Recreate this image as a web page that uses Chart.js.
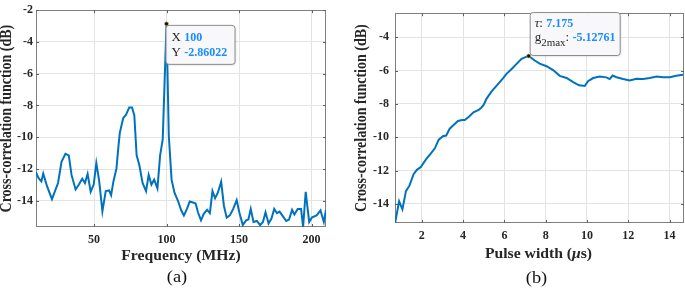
<!DOCTYPE html>
<html><head><meta charset="utf-8">
<script src="https://cdn.jsdelivr.net/npm/chart.js@4.4.1/dist/chart.umd.min.js"></script>
<style>
html,body{margin:0;padding:0;background:#fff}
body{width:685px;height:290px;overflow:hidden;position:relative}
.pane{position:absolute;top:0}
</style></head>
<body>
<div class="pane" style="left:0;width:340px;height:290px"><canvas id="ca" width="340" height="290"></canvas></div>
<div class="pane" style="left:340px;width:345px;height:290px"><canvas id="cb" width="345" height="290"></canvas></div>
<script>
// ---------- data (a) ----------
const freqMHz = [10,11.8,13.7,15,17.6,21,25.2,27.6,30.3,32.6,34.5,37.3,39.6,41.9,43.75,45.6,47.7,49.8,51.6,53.5,55.8,58.1,60.4,61.8,63.4,65.5,66.9,67.8,70.1,72,74.3,76.2,77.8,79.4,81.25,83.5,85.9,87.7,89.6,91.5,93.75,95.6,97.4,100,101.6,103.5,105.5,107.9,110.2,112,114.1,116,118.3,120.1,121.7,123.8,125.7,128,129.9,131.7,133.5,135.4,137.7,139.6,141.5,143.7,146,148.4,150.2,152.6,154.9,156.5,158.1,160,162.3,164.6,166.5,168.3,170.4,172.4,174.3,176.2,178,180.3,182.6,184.5,186.6,188.2,190.5,192.8,194.2,196,198.4,200.2,203.5,206.2,208.5,210];
const corrFreq = [-12.21,-12.58,-12.78,-12.29,-13.08,-13.9,-12.88,-11.55,-11.04,-11.14,-12.37,-13.29,-12.98,-12.61,-12.88,-12.31,-13.43,-12.98,-11.63,-12.7,-14.66,-13.39,-13.35,-13.65,-12.78,-11.96,-10.53,-9.72,-8.8,-8.6,-8.12,-8.12,-8.61,-11.14,-11.75,-12.88,-13.39,-12.37,-12.98,-12.67,-13.22,-11.14,-10.13,-2.86022,-9.92,-12.67,-13.49,-14.0,-14.61,-14.92,-14.51,-14.05,-14.11,-14.17,-14.72,-15.23,-14.82,-14.57,-14.78,-13.39,-13.84,-13.49,-12.8,-14.31,-15.06,-14.92,-14.51,-13.96,-14.72,-15.53,-15.23,-15.18,-14.51,-15.33,-15.27,-15.53,-15.33,-14.72,-15.43,-15.12,-14.51,-14.78,-14.68,-14.98,-15.27,-15.18,-14.57,-14.86,-14.51,-14.51,-15.65,-13.43,-15.33,-15.06,-14.92,-14.61,-15.33,-14.57];
const freqTicks = [50,100,150,200];
const corrTicksA = [-2,-4,-6,-8,-10,-12,-14];
const tipA = {x:100, y:-2.86022};

// ---------- data (b) ----------
const pulseUs = [0.7,0.9,1.06,1.23,1.4,1.6,1.76,1.95,2.2,2.45,2.63,2.82,3.02,3.18,3.35,3.55,3.75,3.95,4.08,4.28,4.5,4.75,4.9,5.0,5.13,5.38,5.7,5.94,6.1,6.34,6.59,6.83,6.99,7.175,7.47,7.71,8.04,8.36,8.68,9.01,9.33,9.62,9.89,10.05,10.3,10.62,10.94,11.1,11.24,11.43,11.75,12.07,12.4,12.72,13.04,13.37,13.69,14.01,14.33,14.65];
const corrPulse = [-15.17,-13.85,-14.33,-13.24,-12.91,-12.22,-11.96,-11.79,-11.33,-10.95,-10.67,-10.15,-9.94,-9.9,-9.49,-9.26,-9.03,-8.97,-8.97,-8.77,-8.51,-8.37,-8.2,-8.05,-7.7,-7.25,-6.8,-6.45,-6.2,-5.92,-5.6,-5.3,-5.21,-5.12761,-5.4,-5.59,-5.74,-5.97,-6.32,-6.45,-6.7,-6.89,-6.93,-6.64,-6.45,-6.36,-6.41,-6.51,-6.3,-6.4,-6.51,-6.59,-6.49,-6.51,-6.45,-6.36,-6.4,-6.4,-6.32,-6.26];
const pulseTicks = [2,4,6,8,10,12,14];
const corrTicksB = [-4,-6,-8,-10,-12,-14];
const tipB = {x:7.175, y:-5.12761};

const SERIF = '"Liberation Serif","Times New Roman",serif';
const LINE = '#0072BD';
const BLUE = '#1a8cff';
const TXT = '#262626';
const STRETCH = 1.12;

function pts(xs, ys){ return xs.map((x,i)=>({x:x, y:ys[i]})); }

function framePlugin(){
  return {
    id:'frame',
    beforeDatasetsDraw(chart){
      const {ctx, chartArea:a, scales} = chart;
      ctx.save();
      ctx.strokeStyle = '#7f7f7f';
      ctx.lineWidth = 1;
      ctx.strokeRect(Math.round(a.left)+0.5, Math.round(a.top)+0.5, Math.round(a.right-a.left)-1, Math.round(a.bottom-a.top)-1);
      const L = 3;
      ctx.strokeStyle = '#5f5f5f';
      ctx.beginPath();
      scales.x.ticks.forEach(t=>{
        const px = Math.round(scales.x.getPixelForValue(t.value))+0.5;
        ctx.moveTo(px, a.bottom); ctx.lineTo(px, a.bottom-L);
        ctx.moveTo(px, a.top); ctx.lineTo(px, a.top+L);
      });
      scales.y.ticks.forEach(t=>{
        const py = Math.round(scales.y.getPixelForValue(t.value))+0.5;
        ctx.moveTo(a.left, py); ctx.lineTo(a.left+L, py);
        ctx.moveTo(a.right, py); ctx.lineTo(a.right-L, py);
      });
      ctx.stroke();
      ctx.restore();
    }
  };
}

function roundBox(ctx,x,y,w,h,r){
  ctx.beginPath();
  ctx.moveTo(x+r,y); ctx.lineTo(x+w-r,y); ctx.quadraticCurveTo(x+w,y,x+w,y+r);
  ctx.lineTo(x+w,y+h-r); ctx.quadraticCurveTo(x+w,y+h,x+w-r,y+h);
  ctx.lineTo(x+r,y+h); ctx.quadraticCurveTo(x,y+h,x,y+h-r);
  ctx.lineTo(x,y+r); ctx.quadraticCurveTo(x,y,x+r,y); ctx.closePath();
}

function seg(ctx, parts, x, y){
  parts.forEach(p=>{
    ctx.font = p[1]; ctx.fillStyle = p[2];
    ctx.fillText(p[0], x, y + (p[3]||0));
    x += ctx.measureText(p[0]).width;
  });
  return x;
}
function segWidth(ctx, parts){
  let w=0; parts.forEach(p=>{ctx.font=p[1]; w+=ctx.measureText(p[0]).width;}); return w;
}

function tipPlugin(kind){
  return {
    id:'tip',
    afterDatasetsDraw(chart){
      const {ctx, scales} = chart;
      const tip = kind==='a' ? tipA : tipB;
      const px = scales.x.getPixelForValue(tip.x);
      const py = scales.y.getPixelForValue(tip.y);
      ctx.save();
      ctx.textBaseline = 'middle';
      ctx.textAlign = 'left';
      let bx, by, bw, bh, l1, l2;
      const reg = '13px '+SERIF, bold = 'bold 12px '+SERIF;
      if(kind==='a'){
        bx = px-1; by = py+1; bw = 69; bh = 39;
        l1 = [['X ',reg,TXT],[String(tip.x),bold,BLUE]];
        l2 = [['Y ',reg,TXT],[String(tip.y),bold,BLUE]];
      } else {
        bx = px+1; by = py-44; bw = 90; bh = 43;
        l1 = [['\u03C4','italic 13px '+SERIF,TXT],[': ',reg,TXT],[String(tip.x),bold,BLUE]];
        l2 = [['g',reg,TXT],['2max','11px '+SERIF,TXT,5],[': ',reg,TXT],[String(tip.y),bold,BLUE]];
      }
      ctx.shadowColor='rgba(0,0,0,0.15)'; ctx.shadowBlur=2; ctx.shadowOffsetX=1; ctx.shadowOffsetY=1;
      roundBox(ctx,bx+0.5,by+0.5,bw,bh,3);
      ctx.fillStyle='rgba(249,249,252,0.97)'; ctx.fill();
      ctx.shadowColor='transparent';
      ctx.strokeStyle='#8c8c8c'; ctx.lineWidth=1; ctx.stroke();
      if(kind==='a'){
        seg(ctx,l1,bx+6,by+13);
        seg(ctx,l2,bx+6,by+28);
      } else {
        seg(ctx,l1,bx+5,by+12);
        seg(ctx,l2,bx+5,by+26);
      }
      ctx.beginPath(); ctx.arc(px,py,2,0,Math.PI*2);
      ctx.fillStyle='#111'; ctx.fill();
      ctx.strokeStyle='#c8b060'; ctx.lineWidth=0.6; ctx.stroke();
      ctx.restore();
    }
  };
}

function titlePlugin(kind){
  return {
    id:'titles',
    afterDraw(chart){
      const {ctx, chartArea:a} = chart;
      ctx.save();
      ctx.fillStyle = TXT;
      ctx.textBaseline = 'middle';
      const tf = 'bold 14px '+SERIF;
      // y title
      ctx.save();
      const yx = kind==='a' ? 7 : 22;
      ctx.translate(yx, (a.top+a.bottom)/2);
      ctx.scale(STRETCH,1);
      ctx.rotate(-Math.PI/2);
      ctx.font = tf; ctx.textAlign='center';
      ctx.fillText('Cross-correlation function (dB)',0,0);
      ctx.restore();
      const cx = (a.left+a.right)/2;
      if(kind==='a'){
        ctx.save();
        ctx.translate(cx, 256); ctx.scale(STRETCH,1);
        ctx.font = tf; ctx.textAlign='center';
        ctx.fillText('Frequency (MHz)', 0, 0);
        ctx.restore();
        ctx.font = '17px '+SERIF; ctx.fillStyle='#111'; ctx.textAlign='center';
        ctx.save(); ctx.translate(cx-4,278); ctx.scale(1.08,1); ctx.fillText('(a)', 0, 0); ctx.restore();
      } else {
        const parts = [['Pulse width (',tf,TXT],['\u03BC','bold italic 14px '+SERIF,TXT],['s)',tf,TXT]];
        ctx.textAlign='left';
        const w = segWidth(ctx,parts);
        ctx.save();
        ctx.translate(cx-1, 254); ctx.scale(STRETCH,1);
        seg(ctx,parts,-w/2,0);
        ctx.restore();
        ctx.font = '17px '+SERIF; ctx.fillStyle='#111'; ctx.textAlign='center';
        ctx.save(); ctx.translate(cx-3,279); ctx.scale(1.08,1); ctx.fillText('(b)', 0, 0); ctx.restore();
      }
      ctx.restore();
    }
  };
}

function makeChart(id, kind){
  const isA = kind==='a';
  const xs = isA ? freqMHz : pulseUs;
  const ys = isA ? corrFreq : corrPulse;
  const xt = isA ? freqTicks : pulseTicks;
  const yt = isA ? corrTicksA : corrTicksB;
  return new Chart(document.getElementById(id), {
    type:'line',
    data:{datasets:[{data:pts(xs,ys), borderColor:LINE, borderWidth:2, pointRadius:0, tension:0, fill:false}]},
    options:{
      responsive:false, animation:false, devicePixelRatio:1,
      layout:{padding: isA ? {top:4,right:14,left:0,bottom:0} : {top:4,right:1,left:0,bottom:0}},
      plugins:{legend:{display:false}, tooltip:{enabled:false}},
      scales:{
        x:{type:'linear', min: isA?10:0.7, max: isA?210:14.7,
           afterBuildTicks:s=>{s.ticks = xt.map(v=>({value:v}));},
           afterFit:s=>{s.height = isA?63:67;},
           grid:{color:'#e3e3e3', drawTicks:false, lineWidth:1},
           border:{display:false},
           ticks:{padding:6, color:TXT, font:{family:SERIF, size:12, weight:'bold'}, maxRotation:0, autoSkip:false}},
        y:{type:'linear', min: isA?-15.65:-15.15, max: isA?-2:-2.56,
           afterBuildTicks:s=>{s.ticks = yt.map(v=>({value:v}));},
           afterFit:s=>{s.width = isA?36:55;},
           grid:{color:'#e3e3e3', drawTicks:false, lineWidth:1},
           border:{display:false},
           ticks:{padding: isA?3:6, color:TXT, font:{family:SERIF, size:12, weight:'bold'}, autoSkip:false}}
      }
    },
    plugins:[framePlugin(), tipPlugin(kind), titlePlugin(kind)]
  });
}
makeChart('ca','a');
makeChart('cb','b');
</script>
</body></html>
